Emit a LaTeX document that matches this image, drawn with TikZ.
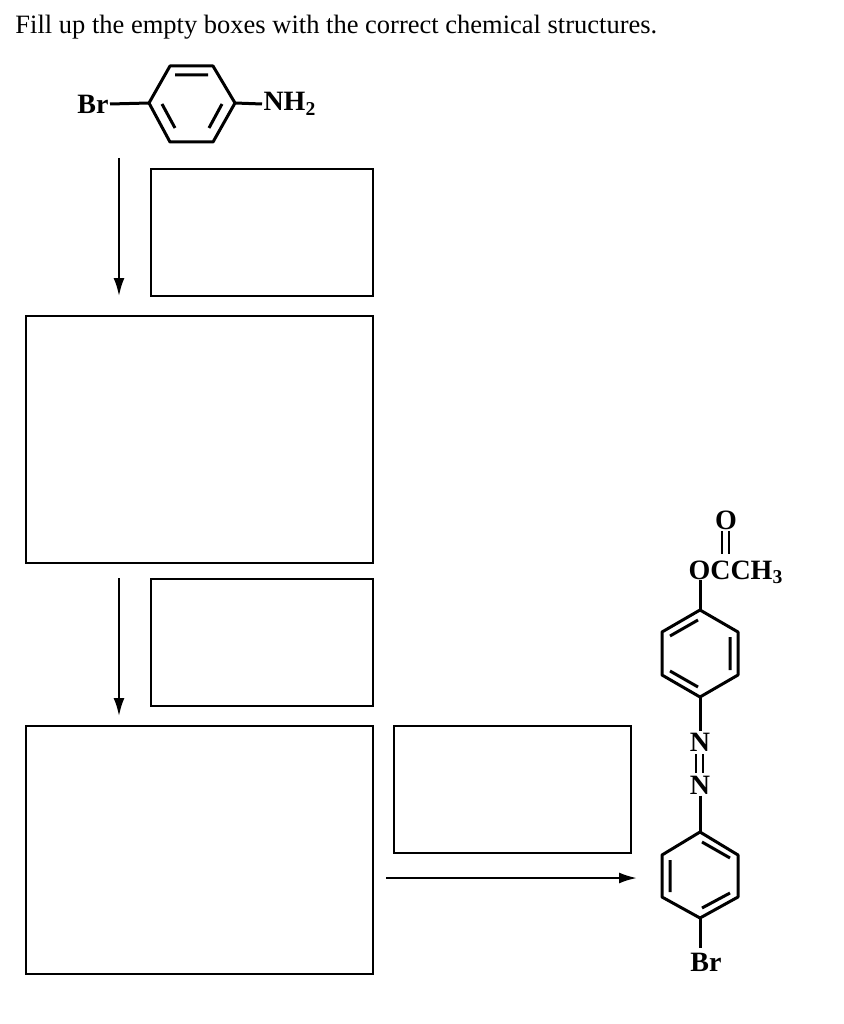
\documentclass[tikz,border=0pt]{standalone}
\usepackage{fontspec}
\setmainfont{Liberation Serif}
\usetikzlibrary{arrows.meta}
\begin{document}
\begin{tikzpicture}[x=1pt,y=-1pt,line width=3pt,
  bx/.style={draw,line width=2.2pt},
  lbl/.style={font=\bfseries\fontsize{28}{28}\selectfont,inner sep=0pt},
  arr/.style={line width=2.2pt,-{Latex[length=18pt,width=11pt]}}]
\useasboundingbox (0,0) rectangle (843,1024);
\node[anchor=base west,inner sep=0pt,font=\fontsize{26.5}{26.5}\selectfont] (title) at (14,34) {Fill up the empty boxes with the correct chemical structures.};
% top molecule
\coordinate (a1) at (149,103); \coordinate (a2) at (170,66); \coordinate (a3) at (213,66);
\coordinate (a4) at (235,103); \coordinate (a5) at (213,142); \coordinate (a6) at (170,142);
\draw[line join=round] (a1)--(a2)--(a3)--(a4)--(a5)--(a6)--cycle;
\draw (175,75)--(208,75) (162,104)--(175,128) (222,104)--(209,128);
\node[lbl,anchor=east] (br1) at (110,104) {Br};
\draw (br1.east)--(a1);
\node[lbl,anchor=west] (nh2) at (262,104) {NH\textsubscript{2}};
\draw (a4)--(nh2.west);
% boxes
\node[bx,minimum width=222pt,minimum height=127pt,anchor=north west] (b1) at (150,168) {};
\node[bx,minimum width=347pt,minimum height=247pt,anchor=north west] (b2) at (25,315) {};
\node[bx,minimum width=222pt,minimum height=127pt,anchor=north west] (b3) at (150,578) {};
\node[bx,minimum width=347pt,minimum height=248pt,anchor=north west] (b4) at (25,725) {};
\node[bx,minimum width=237pt,minimum height=127pt,anchor=north west] (b5) at (393,725) {};
\coordinate (s1) at (119,158); \coordinate (e1) at (119,296);
\coordinate (s2) at (119,578); \coordinate (e2) at (119,716);
\coordinate (s3) at (386,878); \coordinate (e3) at (637,878);
\draw[arr] (s1)--(e1); \draw[arr] (s2)--(e2); \draw[arr] (s3)--(e3);
% right molecule
\node[lbl] (O1) at (726,520) {O};
\node[lbl,anchor=base west] (oc) at (687,579) {OCCH\textsubscript{3}};
\draw[line width=2pt] (722,531)--(722,554) (729,531)--(729,554);
\coordinate (r1) at (700,610); \coordinate (r2) at (738,632); \coordinate (r3) at (738,675);
\coordinate (r4) at (700,697); \coordinate (r5) at (662,675); \coordinate (r6) at (662,632);
\draw (700,580)--(r1);
\draw[line join=round] (r1)--(r2)--(r3)--(r4)--(r5)--(r6)--cycle;
\draw (698,620)--(670,636) (730,637)--(730,670) (670,671)--(698,687);
\node[lbl] (n1) at (700,742) {N};
\node[lbl] (n2) at (700,785) {N};
\draw (r4)--(n1.north);
\draw[line width=2pt] (696,754)--(696,773) (703,754)--(703,773);
\coordinate (q1) at (700,832); \coordinate (q2) at (738,855); \coordinate (q3) at (738,897);
\coordinate (q4) at (700,918); \coordinate (q5) at (662,897); \coordinate (q6) at (662,855);
\draw (n2.south)--(q1);
\draw[line join=round] (q1)--(q2)--(q3)--(q4)--(q5)--(q6)--cycle;
\draw (702,842)--(730,858) (670,860)--(670,892) (730,893)--(702,908);
\node[lbl] (br2) at (706,962) {Br};
\draw (q4)--(700,948);
\end{tikzpicture}
\end{document}
